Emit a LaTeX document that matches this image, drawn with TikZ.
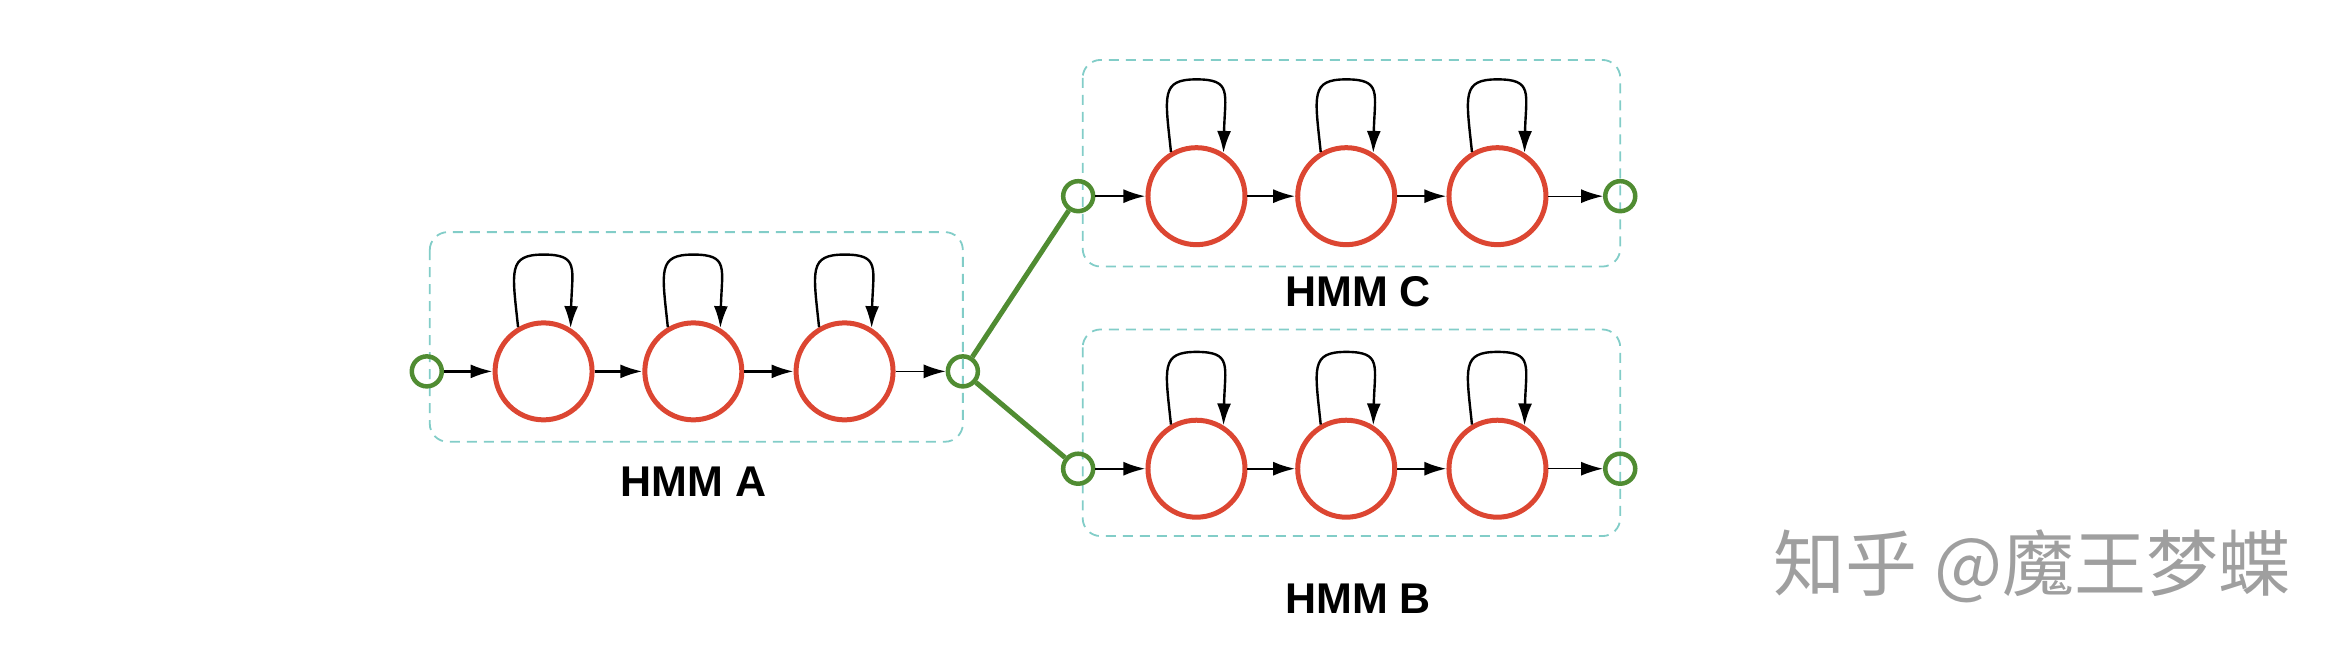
\documentclass[tikz,border=0pt]{standalone}
\usepackage{fontspec}
\setmainfont{Liberation Sans}
\newfontfamily\cjk{Noto Sans CJK SC}
\usetikzlibrary{arrows.meta,calc}
\begin{document}
\begin{tikzpicture}[x=1.4975pt,y=-1.4975pt,
  st/.style={circle,line width=5pt,minimum size=97pt,inner sep=0pt},
  gn/.style={circle,line width=4.5pt,minimum size=30pt,inner sep=0pt},
  ar/.style={draw=black,line width=2.4pt,-{Latex[length=22pt,width=14pt]}},
  grp/.style={draw=grpc,line width=1.8pt,rounded corners=18pt,dash pattern=on 10pt off 7pt},
  lbl/.style={font=\bfseries\fontsize{43}{46}\selectfont},
  gl/.style={line width=5pt}]
\useasboundingbox (0,0) rectangle (1568,439);
\definecolor{stred}{RGB}{220,70,50}
\definecolor{gg}{RGB}{80,140,50}
\definecolor{grpc}{RGB}{130,205,200}
\tikzset{st/.append style={draw=stred},gn/.append style={draw=gg},gl/.append style={draw=gg}}
% boxes
\draw[grp] (287,155) rectangle (643,295);
\draw[grp] (723,40) rectangle (1082,178);
\draw[grp] (723,220) rectangle (1082,358);
% HMM A
\node[gn] (ai) at (285,248) {};
\node[st] (a1) at (363,248) {};
\node[st] (a2) at (463,248) {};
\node[st] (a3) at (564,248) {};
\node[gn] (ao) at (643,248) {};
% HMM C
\node[gn] (ci) at (720,131) {};
\node[st] (c1) at (799,131) {};
\node[st] (c2) at (899,131) {};
\node[st] (c3) at (1000,131) {};
\node[gn] (co) at (1082,131) {};
% HMM B
\node[gn] (bi) at (720,313) {};
\node[st] (b1) at (799,313) {};
\node[st] (b2) at (899,313) {};
\node[st] (b3) at (1000,313) {};
\node[gn] (bo) at (1082,313) {};
\foreach \p in {a,b,c}{
  \draw[ar] (\p i) -- (\p 1);
  \draw[ar] (\p 1) -- (\p 2);
  \draw[ar] (\p 2) -- (\p 3);
  \draw[ar,line width=1.3pt] (\p 3) -- (\p o);
  \foreach \k in {1,2,3}{
    \draw[ar] (\p\k.120) .. controls +(-4,-38) and +(-24,0) .. ($(\p\k)+(0,-78)$)
      .. controls +(24,0) and +(1,-40) .. (\p\k.58);
  }
}
\draw[gl] (ao) -- (ci);
\draw[gl] (ao) -- (bi);
\node[lbl] (la) at (463,322) {HMM A};
\node[lbl] (lc) at (907,195) {HMM C};
\node[lbl] (lb) at (907,400) {HMM B};
\node[font=\cjk\fontsize{72}{76}\selectfont,text=gray!75] (wm) at (1357,378) {知乎 @魔王梦蝶};
\end{tikzpicture}
\end{document}
